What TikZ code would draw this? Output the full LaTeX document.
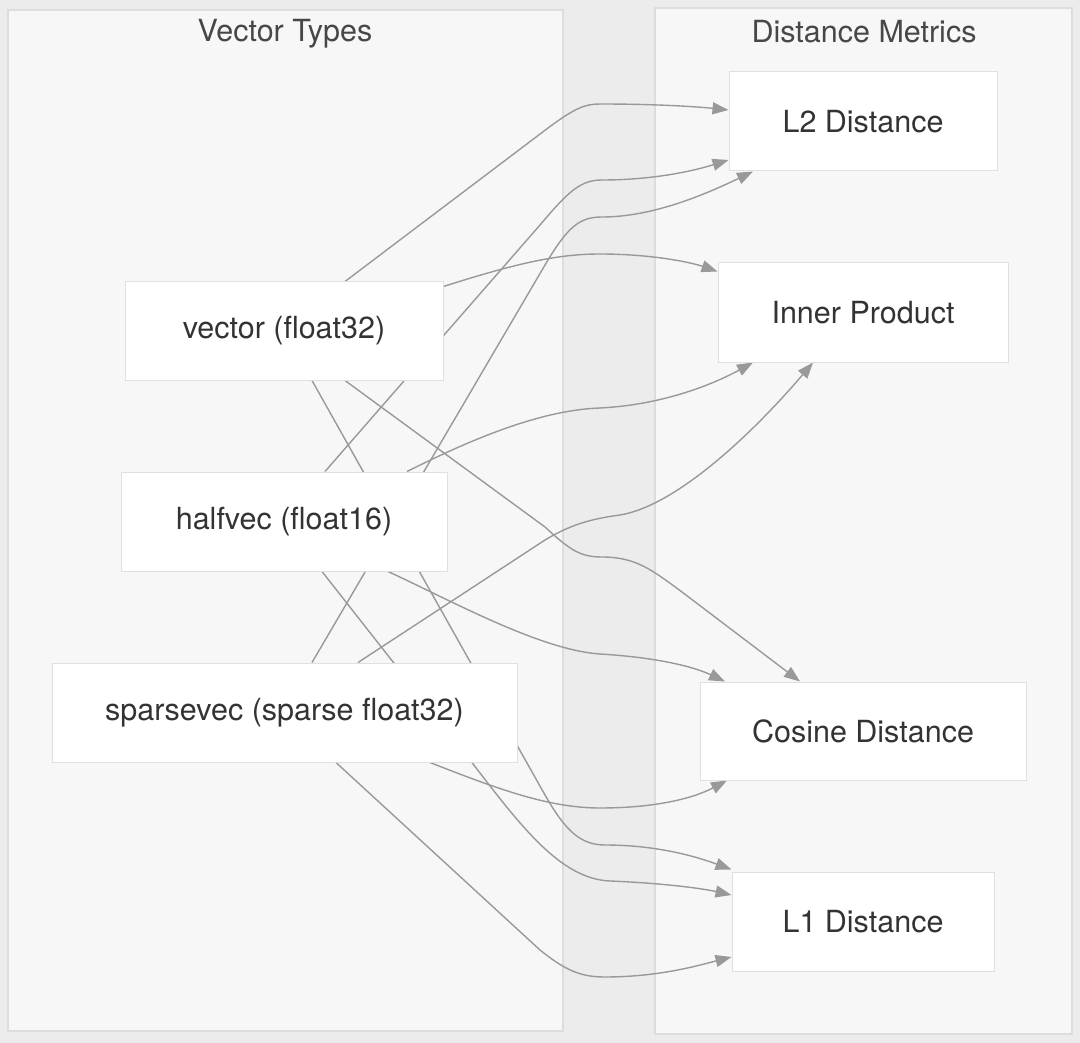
\documentclass[tikz,border=0pt]{standalone}
\usepackage{fontspec}
\setmainfont{TeX Gyre Heros}
\usetikzlibrary{arrows.meta}
\definecolor{bgout}{HTML}{ECECEC}
\definecolor{panelfill}{HTML}{F7F7F7}
\definecolor{panelline}{HTML}{DDDDDD}
\definecolor{nodeline}{HTML}{E0E0E0}
\definecolor{edgecol}{HTML}{999999}
\definecolor{txt}{HTML}{333333}
\pgfdeclarelayer{bglayer}
\pgfdeclarelayer{edgelayer}
\pgfsetlayers{bglayer,edgelayer,main}
\tikzset{
  box/.style={draw=nodeline, line width=1pt, fill=white, inner sep=0pt, text=txt,
    font=\fontsize{30.5}{36}\selectfont},
  panel/.style={draw=panelline, line width=1.2pt, fill=panelfill},
  ptitle/.style={text=txt!90!white, inner sep=0pt, font=\fontsize{30.5}{36}\selectfont},
  edge/.style={draw=edgecol, line width=1.4pt, -{Triangle[length=16pt,width=12pt]}}
}
\begin{document}
\begin{tikzpicture}[x=1pt,y=-1pt]
\begin{pgfonlayer}{bglayer}
\fill[bgout] (0,0) rectangle (1080,1043);
\useasboundingbox (0,0) rectangle (1080,1043);
\draw[panel] (8,10) rectangle (563,1031);
\draw[panel] (655,8) rectangle (1072,1034);
\end{pgfonlayer}
\node[ptitle] (t1) at (285,34) {Vector Types};
\node[ptitle] (t2) at (864,32) {Distance Metrics};

\node[box, minimum width=318pt, minimum height=98pt] (vec) at (284,331) {vector (float32)};
\node[box, minimum width=326pt, minimum height=99pt] (half) at (284,521.5) {halfvec (float16)};
\node[box, minimum width=465pt, minimum height=99pt] (sparse) at (284.5,712.5) {sparsevec (sparse float32)};
\node[box, minimum width=268pt, minimum height=99pt] (l2) at (863,121.5) {L2 Distance};
\node[box, minimum width=290pt, minimum height=99pt] (ip) at (863,312.5) {Inner Product};
\node[box, minimum width=326pt, minimum height=98pt] (cos) at (863,731) {Cosine Distance};
\node[box, minimum width=262pt, minimum height=99pt] (l1) at (863,921.5) {L1 Distance};

\begin{pgfonlayer}{edgelayer}
% vector -> L2
\draw[edge] ([xshift=61pt]vec.north) -- (548,128) .. controls (575,108) and (585,104) .. (600,104) .. controls (660,104) and (700,107) .. ([yshift=11.5pt]l2.west);
% halfvec -> L2
\draw[edge] ([xshift=41pt]half.north) -- (540,225) .. controls (568,192) and (580,180) .. (602,180) .. controls (650,180) and (690,172) .. ([yshift=-38.5pt]l2.west);
% sparsevec -> L2
\draw[edge] ([xshift=27.5pt]sparse.north) -- (545,265) .. controls (568,226) and (580,217) .. (602,217) .. controls (650,217) and (700,197) .. ([xshift=-110pt]l2.south);
% vector -> IP
\draw[edge] ([yshift=-5pt]vec.north east) .. controls (520,262) and (560,254) .. (600,254) .. controls (650,254) and (690,262) .. ([yshift=-9pt]ip.north west);
% halfvec -> IP
\draw[edge] ([xshift=123pt]half.north) .. controls (470,440) and (540,410) .. (600,408) .. controls (660,405) and (710,386) .. ([xshift=-110pt]ip.south);
% sparsevec -> IP
\draw[edge] ([xshift=73.5pt]sparse.north) -- (545,540) .. controls (570,525) and (590,519) .. (620,515) .. controls (680,505) and (760,425) .. ([xshift=-50pt]ip.south);
% vector -> Cosine
\draw[edge] ([xshift=61pt]vec.south) -- (545,527) .. controls (570,550) and (580,557) .. (602,557) .. controls (636,557) and (652,570) .. (682,592) -- ([xshift=-63pt]cos.north);
% halfvec -> Cosine
\draw[edge] ([xshift=104pt]half.south) .. controls (450,600) and (540,650) .. (600,654) .. controls (650,657) and (690,665) .. ([xshift=-138pt]cos.north);
% sparsevec -> Cosine
\draw[edge] ([xshift=145.5pt]sparse.south) .. controls (500,790) and (550,808) .. (600,808) .. controls (650,808) and (690,800) .. ([xshift=-136pt]cos.south);
% vector -> L1
\draw[edge] ([xshift=28pt]vec.south) -- (545,795) .. controls (565,830) and (580,845) .. (605,845) .. controls (660,845) and (700,858) .. ([yshift=2pt]l1.north west);
% halfvec -> L1
\draw[edge] ([xshift=38pt]half.south) -- (470,760) .. controls (520,825) and (560,879) .. (610,881) .. controls (660,883) and (700,888) .. ([yshift=26.5pt]l1.west);
% sparsevec -> L1
\draw[edge] ([xshift=51.5pt]sparse.south) -- (540,950) .. controls (565,970) and (580,977) .. (605,977) .. controls (660,977) and (700,965) .. ([yshift=-35.5pt]l1.west);
\end{pgfonlayer}
\end{tikzpicture}
\end{document}
